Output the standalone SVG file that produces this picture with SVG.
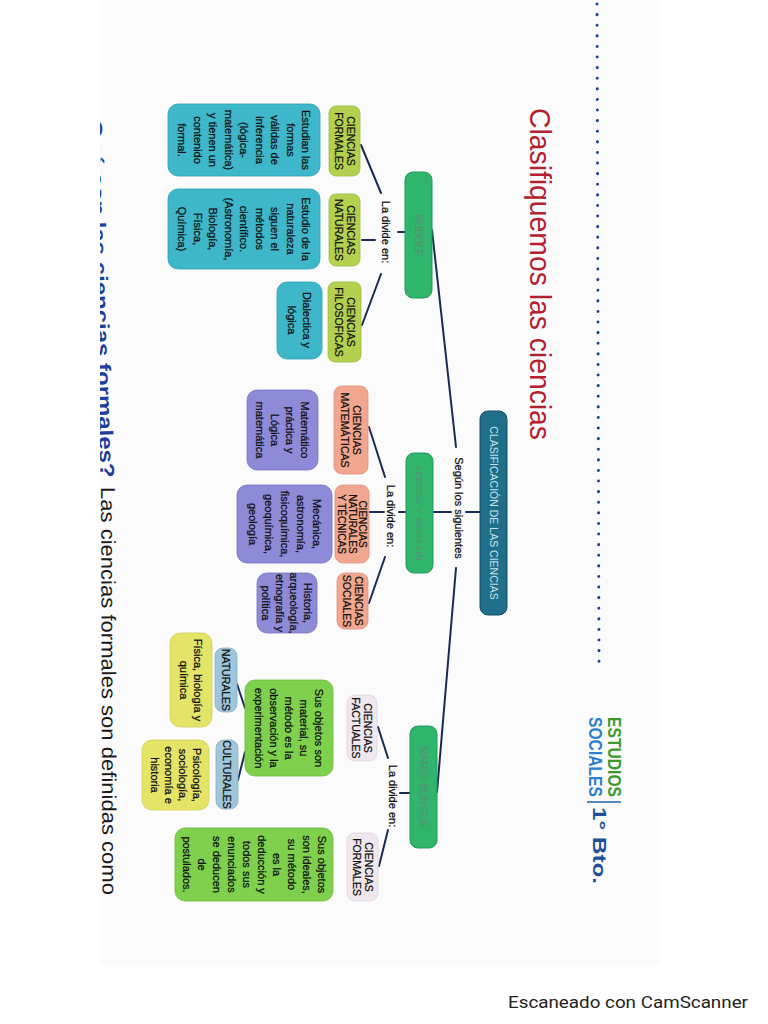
<svg xmlns="http://www.w3.org/2000/svg" width="768" height="1024" viewBox="0 0 768 1024">
<defs>
<style>
.t{font-family:"Liberation Sans",Arial,sans-serif;text-anchor:middle;fill:#111;stroke:#111;stroke-width:0.25}
.ln{stroke:#1b2a55;stroke-width:2;fill:none;stroke-linecap:round}
.main{fill:#1f6f8b;stroke:#175168;stroke-width:1}
.gr{fill:#2fb56c;stroke:#23985a;stroke-width:1}
.lg{fill:#b3d14e;stroke:#9fbd3e;stroke-width:0.8}
.teal{fill:#3db7c9;stroke:#2fa0b2;stroke-width:0.8}
.sal{fill:#f2a68f;stroke:#e08f78;stroke-width:0.8}
.pur{fill:#8d8ad8;stroke:#7673c4;stroke-width:0.8}
.pk{fill:#f1e7ee;stroke:#e2d4de;stroke-width:0.8}
.bg{fill:#7fd04c;stroke:#6bbd3b;stroke-width:0.8}
.lb{fill:#9fc6da;stroke:#86b0c6;stroke-width:0.8}
.ye{fill:#e4e468;stroke:#cfcf55;stroke-width:0.8}
.s11{font-size:11px}
.s10{font-size:10.5px}
.nt{stroke:none}
</style>
<clipPath id="pg"><rect x="100" y="0" width="668" height="1024"/></clipPath>
</defs>
<rect width="768" height="1024" fill="#ffffff"/>
<rect x="100" y="0" width="560" height="965" fill="#fbfbfb"/>

<!-- header -->
<line x1="597" y1="4" x2="599" y2="662" stroke="#1d3f8f" stroke-width="3" stroke-dasharray="0.1 10.5" stroke-linecap="round"/>
<text class="t nt" transform="translate(530,274) rotate(90)" style="font-size:29px;fill:#b3202e" textLength="332" lengthAdjust="spacingAndGlyphs">Clasifiquemos las ciencias</text>
<g id="brand">
<text transform="translate(608,797) rotate(90)" style="font-family:'Liberation Sans',Arial,sans-serif;font-weight:bold;font-size:19px;fill:#3c9a2c;text-anchor:end" textLength="80" lengthAdjust="spacingAndGlyphs">ESTUDIOS</text>
<text transform="translate(589,797) rotate(90)" style="font-family:'Liberation Sans',Arial,sans-serif;font-weight:bold;font-size:19px;fill:#2b80cf;text-anchor:end" textLength="80" lengthAdjust="spacingAndGlyphs">SOCIALES</text>
<line x1="587" y1="802" x2="621" y2="802" stroke="#1d5fa8" stroke-width="1.5"/>
<text transform="translate(593,807) rotate(90)" style="font-family:'Liberation Sans',Arial,sans-serif;font-weight:bold;font-size:19px;fill:#1d4f9a" textLength="77" lengthAdjust="spacingAndGlyphs">1° Bto.</text>
</g>

<!-- connectors -->
<g id="connectors">
<line class="ln" x1="433" y1="512" x2="451" y2="512"/>
<line class="ln" x1="466" y1="512" x2="480" y2="512"/>
<line class="ln" x1="432" y1="230" x2="456" y2="447"/>
<line class="ln" x1="456" y1="568" x2="437" y2="792"/>
<line class="ln" x1="398" y1="232" x2="405" y2="232"/>
<line class="ln" x1="399" y1="512" x2="406" y2="512"/>
<line class="ln" x1="400" y1="793" x2="410" y2="793"/>
<line class="ln" x1="381" y1="193" x2="361" y2="145"/>
<line class="ln" x1="362" y1="240" x2="375" y2="240"/>
<line class="ln" x1="381" y1="274" x2="362" y2="325"/>
<line class="ln" x1="385" y1="477" x2="369" y2="427"/>
<line class="ln" x1="369" y1="512" x2="384" y2="512"/>
<line class="ln" x1="385" y1="557" x2="369" y2="603"/>
<line class="ln" x1="388" y1="758" x2="378" y2="727"/>
<line class="ln" x1="388" y1="830" x2="379" y2="866"/>
<line class="ln" x1="245" y1="708" x2="237" y2="684"/>
<line class="ln" x1="245" y1="752" x2="238" y2="780"/>
</g>

<!-- labels on connectors -->
<text class="t s11" transform="translate(459,508) rotate(90)"><tspan x="0" dy="3.8">Según los siguientes</tspan></text>
<text class="t s11" transform="translate(386,232) rotate(90)"><tspan x="0" dy="3.8">La divide en:</tspan></text>
<text class="t s11" transform="translate(391,516) rotate(90)"><tspan x="0" dy="3.8">La divide en:</tspan></text>
<text class="t s11" transform="translate(393,796) rotate(90)"><tspan x="0" dy="3.8">La divide en:</tspan></text>

<!-- main nodes -->
<g id="n-clasificacion">
<rect class="main" x="480" y="411" width="27" height="204" rx="8"/>
<text class="t nt" style="font-size:10.5px;fill:#c4e3ec" transform="translate(493.5,513) rotate(90)"><tspan x="0" dy="3.7">CLASIFICACIÓN DE LAS CIENCIAS</tspan></text>
</g>
<g id="n-rudolf">
<rect class="gr" x="405" y="172" width="27" height="126" rx="8"/>
<text class="t nt" style="font-size:10px;fill:#5d8f70" transform="translate(418.5,235) rotate(90)"><tspan x="0" dy="3.5">RUDOLF</tspan></text>
</g>
<g id="n-kedrov">
<rect class="gr" x="406" y="453" width="27" height="120" rx="8"/>
<text class="t nt" style="font-size:9.5px;fill:#5d8f70" transform="translate(419.5,513) rotate(90)"><tspan x="0" dy="3.4">KEDROV Y SPIRYKIN</tspan></text>
</g>
<g id="n-bunge">
<rect class="gr" x="410" y="726" width="27" height="122" rx="8"/>
<text class="t nt" style="font-size:10.5px;fill:#5d8f70" transform="translate(423.5,787) rotate(90)"><tspan x="0" dy="3.7">MARIO BUNGUE</tspan></text>
</g>

<!-- Rudolf branch -->
<g id="n-r-formales">
<rect class="lg" x="329" y="106" width="31" height="70" rx="7"/>
<text class="t s10" transform="translate(344.5,141) rotate(90)"><tspan x="0" dy="-2.1">CIENCIAS</tspan><tspan x="0" dy="11.5">FORMALES</tspan></text>
</g>
<g id="n-r-naturales">
<rect class="lg" x="329" y="194" width="31" height="72" rx="7"/>
<text class="t s10" transform="translate(344.5,230) rotate(90)"><tspan x="0" dy="-2.1">CIENCIAS</tspan><tspan x="0" dy="11.5">NATURALES</tspan></text>
</g>
<g id="n-r-filosoficas">
<rect class="lg" x="328" y="282" width="33" height="80" rx="7"/>
<text class="t s10" transform="translate(344.5,322) rotate(90)"><tspan x="0" dy="-2.1">CIENCIAS</tspan><tspan x="0" dy="11.5">FILOSOFICAS</tspan></text>
</g>
<g id="d-r-formales">
<rect class="teal" x="168" y="104" width="152" height="72" rx="10"/>
<text class="t s11" transform="translate(244,140) rotate(90)"><tspan x="0" dy="-58.2">Estudian las</tspan><tspan x="0" dy="15.5">formas</tspan><tspan x="0" dy="15.5">válidas de</tspan><tspan x="0" dy="15.5">inferencia</tspan><tspan x="0" dy="15.5">(lógica-</tspan><tspan x="0" dy="15.5">matemática)</tspan><tspan x="0" dy="15.5">y tienen un</tspan><tspan x="0" dy="15.5">contenido</tspan><tspan x="0" dy="15.5">formal.</tspan></text>
</g>
<g id="d-r-naturales">
<rect class="teal" x="168" y="189" width="152" height="80" rx="10"/>
<text class="t s11" transform="translate(244,229) rotate(90)"><tspan x="0" dy="-58.2">Estudio de la</tspan><tspan x="0" dy="15.5">naturaleza</tspan><tspan x="0" dy="15.5">siguen el</tspan><tspan x="0" dy="15.5">métodos</tspan><tspan x="0" dy="15.5">científico.</tspan><tspan x="0" dy="15.5">(Astronomía,</tspan><tspan x="0" dy="15.5">Biología,</tspan><tspan x="0" dy="15.5">Física,</tspan><tspan x="0" dy="15.5">Química)</tspan></text>
</g>
<g id="d-r-filosoficas">
<rect class="teal" x="277" y="282" width="45" height="77" rx="10"/>
<text class="t s11" transform="translate(299.5,320) rotate(90)"><tspan x="0" dy="-3.7">Dialectica y</tspan><tspan x="0" dy="15">lógica</tspan></text>
</g>

<!-- Kedrov branch -->
<g id="n-k-matematicas">
<rect class="sal" x="334" y="386" width="34" height="88" rx="8"/>
<text class="t s10" transform="translate(351,430) rotate(90)"><tspan x="0" dy="-2.3">CIENCIAS</tspan><tspan x="0" dy="12">MATEMÁTICAS</tspan></text>
</g>
<g id="n-k-naturales">
<rect class="sal" x="335" y="485" width="34" height="78" rx="8"/>
<text class="t" style="font-size:10px" transform="translate(352,524) rotate(90)"><tspan x="0" dy="-7">CIENCIAS</tspan><tspan x="0" dy="10.5">NATURALES</tspan><tspan x="0" dy="10.5">Y TÉCNICAS</tspan></text>
</g>
<g id="n-k-sociales">
<rect class="sal" x="337" y="573" width="31" height="56" rx="8"/>
<text class="t s10" transform="translate(352.5,601) rotate(90)"><tspan x="0" dy="-2.3">CIENCIAS</tspan><tspan x="0" dy="12">SOCIALES</tspan></text>
</g>
<g id="d-k-matematicas">
<rect class="pur" x="247" y="390" width="71" height="80" rx="10"/>
<text class="t s11" transform="translate(282.5,430) rotate(90)"><tspan x="0" dy="-18.7">Matemático</tspan><tspan x="0" dy="15">práctica y</tspan><tspan x="0" dy="15">Lógica</tspan><tspan x="0" dy="15">matemática</tspan></text>
</g>
<g id="d-k-naturales">
<rect class="pur" x="237" y="485" width="95" height="78" rx="10"/>
<text class="t s11" transform="translate(284.5,524) rotate(90)"><tspan x="0" dy="-28.2">Mecánica,</tspan><tspan x="0" dy="16">astronomía,</tspan><tspan x="0" dy="16">fisicoquímica,</tspan><tspan x="0" dy="16">geoquímica,</tspan><tspan x="0" dy="16">geología</tspan></text>
</g>
<g id="d-k-sociales">
<rect class="pur" x="257" y="573" width="60" height="60" rx="10"/>
<text class="t s11" transform="translate(287,603) rotate(90)"><tspan x="0" dy="-17.2">Historia,</tspan><tspan x="0" dy="14">arqueología,</tspan><tspan x="0" dy="14">etnografía y</tspan><tspan x="0" dy="14">política</tspan></text>
</g>

<!-- Bunge branch -->
<g id="n-b-factuales">
<rect class="pk" x="347" y="695" width="30" height="66" rx="8"/>
<text class="t s10" transform="translate(362,728) rotate(90)"><tspan x="0" dy="-2.3">CIENCIAS</tspan><tspan x="0" dy="12">FACTUALES</tspan></text>
</g>
<g id="n-b-formales">
<rect class="pk" x="347" y="833" width="31" height="68" rx="8"/>
<text class="t s10" transform="translate(362.5,867) rotate(90)"><tspan x="0" dy="-2.3">CIENCIAS</tspan><tspan x="0" dy="12">FORMALES</tspan></text>
</g>
<g id="d-b-factuales">
<rect class="bg" x="245" y="680" width="88" height="96" rx="10"/>
<text class="t s11" transform="translate(289,728) rotate(90)"><tspan x="0" dy="-26.2">Sus objetos son</tspan><tspan x="0" dy="15">material, su</tspan><tspan x="0" dy="15">método es la</tspan><tspan x="0" dy="15">observación y la</tspan><tspan x="0" dy="15">experimentación</tspan></text>
</g>
<g id="d-b-formales">
<rect class="bg" x="175" y="828" width="158" height="73" rx="10"/>
<text class="t s11" transform="translate(254,864.5) rotate(90)"><tspan x="0" dy="-63.7">Sus objetos</tspan><tspan x="0" dy="15">son ideales,</tspan><tspan x="0" dy="15">su método</tspan><tspan x="0" dy="15">es la</tspan><tspan x="0" dy="15">deducción y</tspan><tspan x="0" dy="15">todos sus</tspan><tspan x="0" dy="15">enunciados</tspan><tspan x="0" dy="15">se deducen</tspan><tspan x="0" dy="15">de</tspan><tspan x="0" dy="15">postulados.</tspan></text>
</g>
<g id="n-b-naturales">
<rect class="lb" x="215" y="648" width="22" height="64" rx="8"/>
<text class="t s10" transform="translate(226,680) rotate(90)"><tspan x="0" dy="3.7">NATURALES</tspan></text>
</g>
<g id="n-b-culturales">
<rect class="lb" x="216" y="740" width="22" height="69" rx="8"/>
<text class="t s10" transform="translate(227,774.5) rotate(90)"><tspan x="0" dy="3.7">CULTURALES</tspan></text>
</g>
<g id="d-b-naturales">
<rect class="ye" x="170" y="633" width="42" height="94" rx="10"/>
<text class="t s11" transform="translate(191,680) rotate(90)"><tspan x="0" dy="-3.2">Física, biología y</tspan><tspan x="0" dy="14">química</tspan></text>
</g>
<g id="d-b-culturales">
<rect class="ye" x="142" y="740" width="67" height="70" rx="10"/>
<text class="t s11" transform="translate(175.5,775) rotate(90)"><tspan x="0" dy="-17.2">Psicología,</tspan><tspan x="0" dy="14">sociología,</tspan><tspan x="0" dy="14">economía e</tspan><tspan x="0" dy="14">historia</tspan></text>
</g>

<!-- body text strip -->
<g clip-path="url(#pg)">
<text transform="translate(87.5,105) rotate(88)" style="font-family:'Liberation Sans',Arial,sans-serif;font-size:20px;fill:#1f3f9a;font-weight:bold" textLength="373" lengthAdjust="spacingAndGlyphs">¿Qué son las ciencias formales?</text>
<text transform="translate(101,487) rotate(89.8)" style="font-family:'Liberation Sans',Arial,sans-serif;font-size:20px;fill:#1a1a1a" textLength="408" lengthAdjust="spacingAndGlyphs">Las ciencias formales son definidas como</text>
</g>

<text x="748" y="1008" style="font-family:Roboto,'Liberation Sans',sans-serif;font-size:17px;fill:#222;text-anchor:end" textLength="240" lengthAdjust="spacingAndGlyphs">Escaneado con CamScanner</text>
</svg>
